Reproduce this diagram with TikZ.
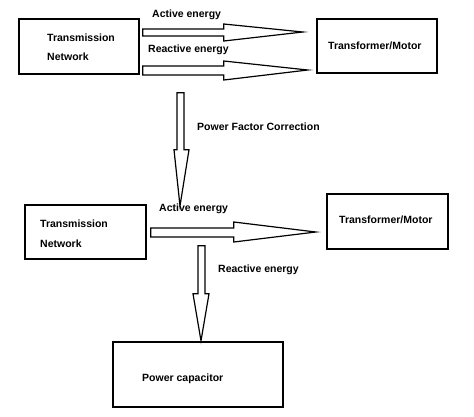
\documentclass[tikz,border=0pt]{standalone}
\usepackage{fontspec}
\setmainfont{Liberation Sans}
\begin{document}
\begin{tikzpicture}[x=1pt,y=-1pt,
  box/.style={draw,line width=1.6pt,inner sep=0pt},
  lbl/.style={anchor=west,inner sep=0pt,font=\bfseries\fontsize{10.5}{12}\selectfont},
  blockarrow/.style={draw,line width=1.2pt,line join=miter}]
\useasboundingbox (0,0) rectangle (474,416);
% boxes
\node[box,minimum width=120pt,minimum height=55pt] (tn1) at (79,46.5) {};
\node[box,minimum width=120pt,minimum height=54pt] (tm1) at (377,46) {};
\node[box,minimum width=121pt,minimum height=54pt] (tn2) at (85.5,232) {};
\node[box,minimum width=121pt,minimum height=55pt] (tm2) at (387.5,221.5) {};
\node[box,minimum width=170pt,minimum height=65pt] (pc) at (198,374.5) {};
% box texts
\node[lbl] (tn1a) at (47,38) {Transmission};
\node[lbl] (tn1b) at (47,57) {Network};
\node[lbl] (tm1a) at (328,46) {Transformer/Motor};
\node[lbl] (tn2a) at (40,224) {Transmission};
\node[lbl] (tn2b) at (40,244) {Network};
\node[lbl] (tm2a) at (339,220) {Transformer/Motor};
\node[lbl] (pca) at (142,379) {Power capacitor};
% arrow labels
\node[lbl] (l1) at (152,15) {Active energy};
\node[lbl] (l2) at (148,50) {Reactive energy};
\node[lbl] (l3) at (197,127) {Power Factor Correction};
\node[lbl] (l4) at (159,209) {Active energy};
\node[lbl] (l5) at (218,270) {Reactive energy};
% arrow anchor coordinates
\coordinate (a1) at ([xshift=3pt]tn1.east |- 0,32.5);
\coordinate (a2) at ([xshift=3pt]tn1.east |- 0,70.5);
\coordinate (a3) at ([yshift=-18pt]tn1.south -| 180.5,0);
\coordinate (a4) at ([xshift=4pt]tn2.east |- 0,232.5);
\coordinate (a5) at ([yshift=14pt]tn2.south -| 201.5,0);
% block arrows
\draw[blockarrow,shift={(a1)}] (0,-3.5) -- (81,-3.5) -- (81,-8.5) -- (160,-0.5) -- (81,8.5) -- (81,3.5) -- (0,3.5) -- cycle;
\draw[blockarrow,shift={(a2)}] (0,-4.5) -- (81,-4.5) -- (81,-9.5) -- (165,-0.5) -- (81,9.5) -- (81,4.5) -- (0,4.5) -- cycle;
\draw[blockarrow,shift={(a3)}] (-3.5,0) -- (3.5,0) -- (3.5,57) -- (8.5,57) -- (-0.5,113) -- (-6.5,57) -- (-3.5,57) -- cycle;
\draw[blockarrow,shift={(a4)}] (0,-4.5) -- (83,-4.5) -- (83,-10.5) -- (165,-0.5) -- (83,9.5) -- (83,4.5) -- (0,4.5) -- cycle;
\draw[blockarrow,shift={(a5)}] (-3.5,0) -- (3.5,0) -- (3.5,48) -- (7.5,48) -- (-0.5,95) -- (-8.5,48) -- (-3.5,48) -- cycle;
\end{tikzpicture}
\end{document}
